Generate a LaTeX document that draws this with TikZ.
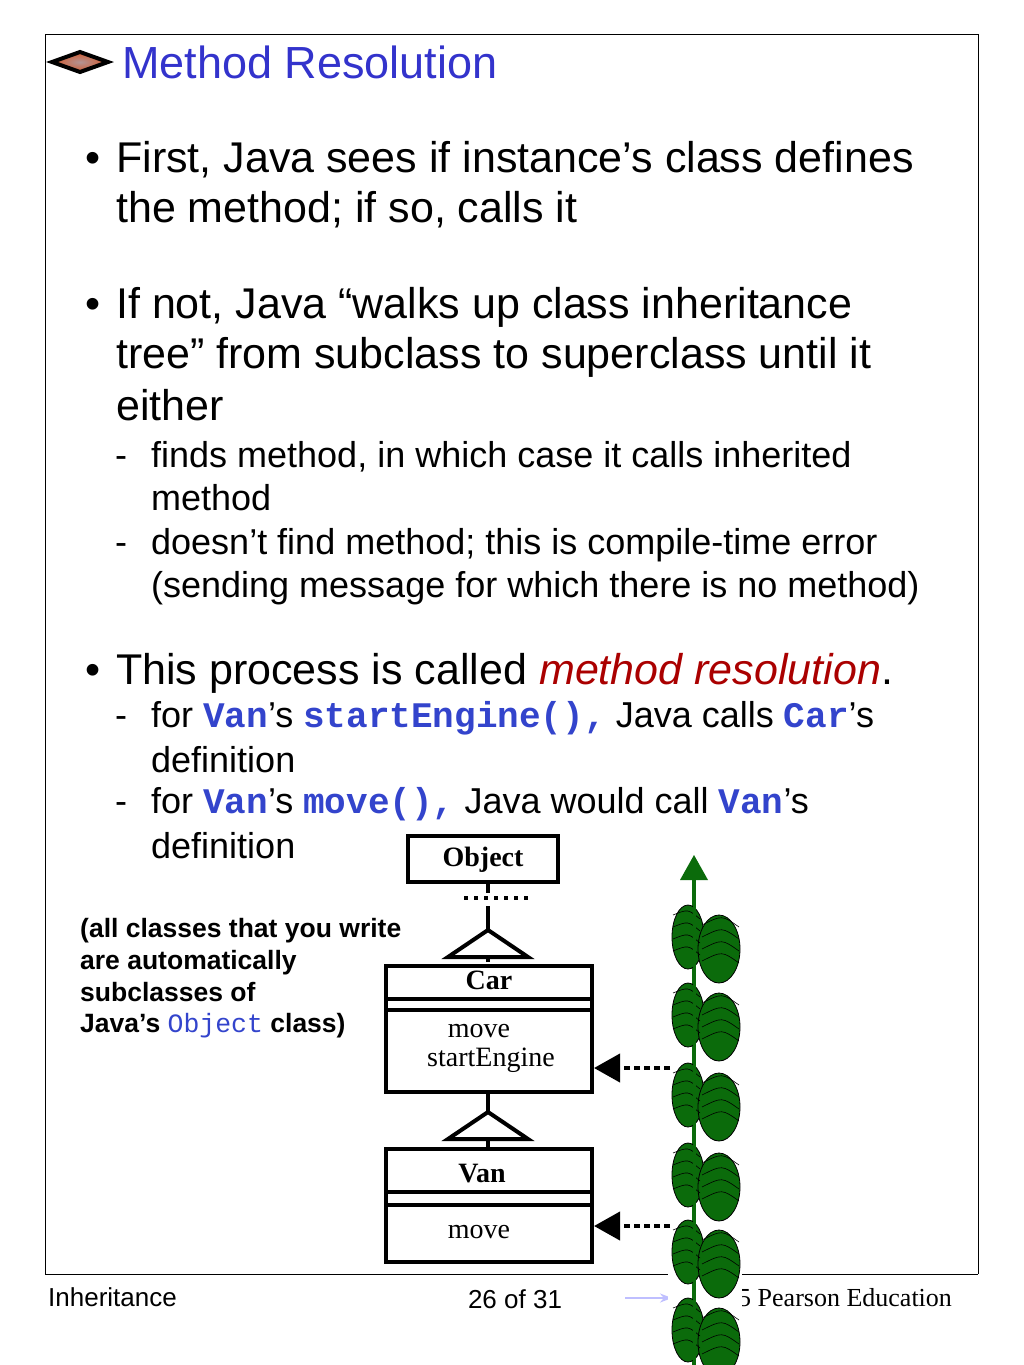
\documentclass[tikz,border=0pt]{standalone}
\usepackage{fontspec}
\setmainfont{Liberation Sans}
\newfontfamily\serif{Liberation Serif}
\newfontfamily\mono{Liberation Mono}
\usetikzlibrary{arrows.meta}
\definecolor{tblue}{HTML}{3333CC}
\definecolor{cblue}{HTML}{3344CC}
\definecolor{dred}{HTML}{AA0000}
\definecolor{vgreen}{HTML}{0B6B0B}
\newcommand{\cd}[1]{{\mono\bfseries\color{cblue}#1}}
\tikzset{
 txt/.style={anchor=base west,inner sep=0pt,font=\fontsize{43}{48}\selectfont},
 sub/.style={anchor=base west,inner sep=0pt,font=\fontsize{36}{40}\selectfont},
 note/.style={anchor=base west,inner sep=0pt,font=\fontsize{26.5}{30}\selectfont\bfseries},
 cls/.style={draw,line width=4pt},
 ctext/.style={inner sep=0pt,font=\serif\fontsize{28}{32}\selectfont},
 tri/.style={draw,line width=4pt,fill=white,line join=miter},
 leaf/.style={fill=vgreen,draw=black,line width=0.8pt},
}
\begin{document}
\begin{tikzpicture}[x=1pt,y=-1pt]
\useasboundingbox (0,0) rectangle (1024,1365);
\draw[line width=1pt] (45,1274) -- (45,34) -- (978,34) -- (978,1274);
\draw[line width=1pt] (45,1274) coordinate (bl) -- (978,1274) coordinate (br);
% title
\shade[inner color=white!70!red!40!gray,outer color=red!30!brown] (52,62) -- (80,52) -- (108,62) -- (80,72) -- cycle;
\draw[line width=4pt,line join=miter] (52,62) -- (80,52) -- (108,62) -- (80,72) -- cycle;
\node[txt,font=\fontsize{45}{50}\selectfont,text=tblue] (title) at (122,78) {Method Resolution};
% bullets
\node[txt] (b1) at (85,172) {•};
\node[txt] (t1a) at (116,172) {First, Java sees if instance’s class defines};
\node[txt] (t1b) at (116,222) {the method; if so, calls it};
\node[txt] (b2) at (85,318) {•};
\node[txt] (t2a) at (116,318) {If not, Java “walks up class inheritance};
\node[txt] (t2b) at (116,368) {tree” from subclass to superclass until it};
\node[txt] (t2c) at (116,420) {either};
\node[sub] (d1) at (115,467) {-};
\node[sub] (s1a) at (151,467) {finds method, in which case it calls inherited};
\node[sub] (s1b) at (151,510) {method};
\node[sub] (d2) at (115,554) {-};
\node[sub] (s2a) at (151,554) {doesn’t find method; this is compile-time error};
\node[sub] (s2b) at (151,597) {(sending message for which there is no method)};
\node[txt] (b3) at (85,684) {•};
\node[txt] (t3) at (116,684) {This process is called {\itshape\color{dred}method resolution}.};
\node[sub] (d3) at (115,727) {-};
\node[sub] (s3a) at (151,727) {for \cd{Van}’s \cd{startEngine(),} Java calls \cd{Car}’s};
\node[sub] (s3b) at (151,772) {definition};
\node[sub] (d4) at (115,813) {-};
\node[sub] (s4a) at (151,813) {for \cd{Van}’s \cd{move(),} Java would call \cd{Van}’s};
\node[sub] (s4b) at (151,858) {definition};
% note
\node[note] (n1) at (80,937) {(all classes that you write};
\node[note] (n2) at (80,969) {are automatically};
\node[note] (n3) at (80,1001) {subclasses of};
\node[note] (n4) at (80,1032) {Java’s {\mono\mdseries\color{cblue}Object} class)};
% classes
\draw[cls] (408,836) rectangle (558,882);
\node[ctext,font=\serif\bfseries\fontsize{28}{32}\selectfont] (obj) at (483,860) {Object};
\draw[line width=4pt] (488,882) -- (488,893);
\draw[line width=4pt,dash pattern=on 4pt off 6pt] (464,898) -- (528,898);
\draw[line width=4pt] (488,906) -- (488,930);
\draw[cls] (386,966) rectangle (592,1092);
\draw[line width=4pt] (386,999) -- (592,999);
\draw[line width=4pt] (386,1010) -- (592,1010);
\draw[line width=4pt] (488,962) -- (488,957);
\draw[tri] (488,930) -- (528,957) -- (448,957) -- cycle;
\node[ctext,font=\serif\bfseries\fontsize{28}{32}\selectfont] (car) at (489,980) {Car};
\node[ctext] (cm1) at (479,1031) {move};
\node[ctext] (cm2) at (491,1060) {startEngine};
\draw[line width=4pt] (488,1092) -- (488,1112);
\draw[cls] (386,1149) rectangle (592,1262);
\draw[line width=4pt] (386,1192) -- (592,1192);
\draw[line width=4pt] (386,1205) -- (592,1205);
\draw[tri] (488,1112) -- (528,1139) -- (448,1139) -- cycle;
\draw[line width=4pt] (488,1139) -- (488,1149);
\node[ctext,font=\serif\bfseries\fontsize{28}{32}\selectfont] (van) at (482,1174) {Van};
\node[ctext] (vm) at (479,1232) {move};
% arrows
\coordinate (a1) at (670,1068);
\coordinate (a1e) at (594,1068);
\coordinate (a2) at (670,1226);
\coordinate (a2e) at (594,1226);
\draw[line width=4pt,dash pattern=on 6pt off 4pt,-{Triangle[length=26pt,width=28pt]}] (a1) -- (a1e);
\draw[line width=4pt,dash pattern=on 6pt off 4pt,-{Triangle[length=26pt,width=28pt]}] (a2) -- (a2e);
% footer
\node[anchor=base west,inner sep=0pt,font=\fontsize{26}{30}\selectfont] (f1) at (48,1306) {Inheritance};
\node[anchor=base,inner sep=0pt,font=\fontsize{26}{30}\selectfont] (f2) at (515,1308) {26 of 31};
\draw[draw=blue!25,line width=2.5pt,-{Stealth[length=12pt]}] (625,1298) -- (672,1298);
\node[anchor=base west,inner sep=0pt,font=\serif\fontsize{26}{30}\selectfont] (f3) at (738,1306) {5 Pearson Education};
% vine
\fill[white] (668,1270) rectangle (742,1365);
\draw[vgreen,line width=4pt] (694,1365) -- (694,878);
\fill[vgreen] (680,880) -- (694,855) -- (708,880) -- cycle;
\foreach \yy in {945,1023,1103,1183,1260,1338}{
  \draw[leaf] (688,\yy-8) ellipse (16pt and 32pt);
  \draw[leaf] (719,\yy+4) ellipse (21pt and 34pt);
  \foreach \k in {-16,-4,8,20}{
    \draw[black,line width=0.6pt] (673,\yy+\k-14) .. controls (688,\yy+\k-20) .. (700,\yy+\k-10);
    \draw[black,line width=0.6pt] (702,\yy+\k-4) .. controls (722,\yy+\k-14) .. (739,\yy+\k-2);
  }
}
\draw[vgreen,line width=3pt] (694,1365) -- (694,900);
\end{tikzpicture}
\end{document}
